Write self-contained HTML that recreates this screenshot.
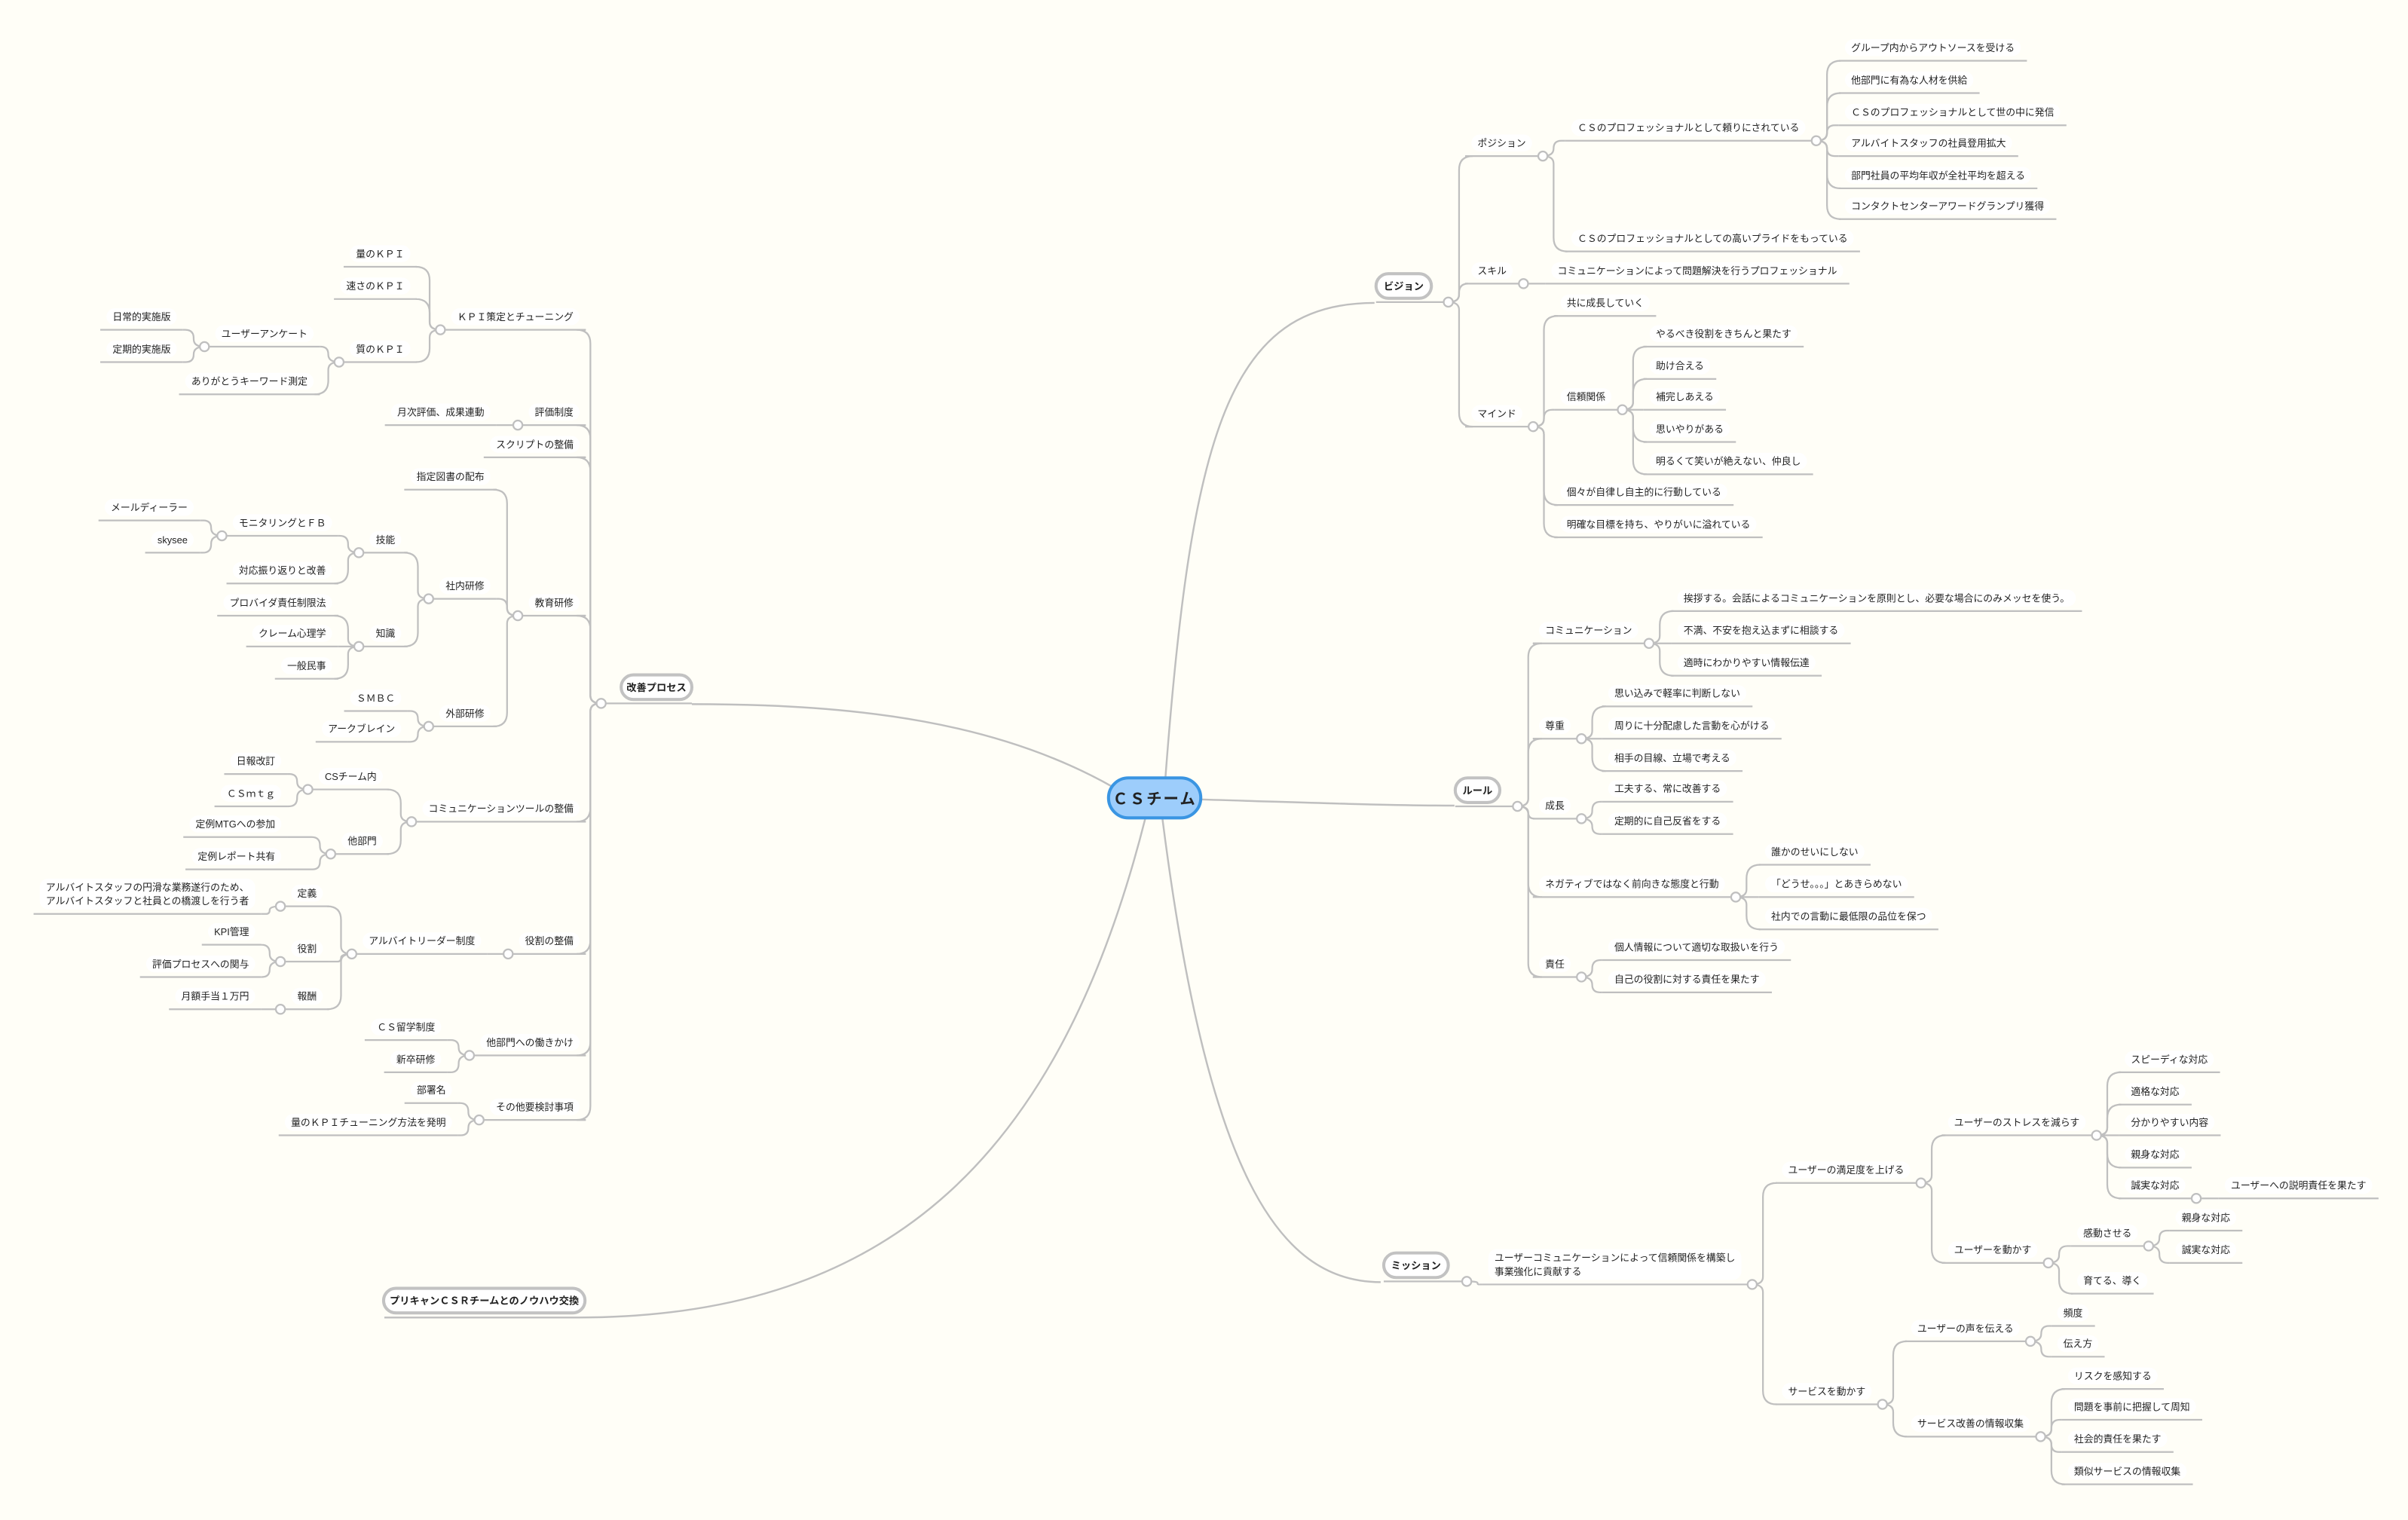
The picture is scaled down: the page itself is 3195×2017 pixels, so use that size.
<!DOCTYPE html>
<html><head><meta charset="utf-8">
<style>
html,body{margin:0;padding:0;background:#fffef7;}
svg{display:block;}
text{font-family:"Liberation Sans","Noto Sans CJK JP",sans-serif;fill:#222;}
</style></head>
<body>
<svg id="s" xmlns="http://www.w3.org/2000/svg" width="3195" height="2017" viewBox="0 0 1566.2 988.7">
<rect x="0" y="0" width="1566.2" height="988.7" fill="#fffef7"/>
<g id="links" fill="none" stroke="#bfbfbf" stroke-width="1.1"></g>
<g id="nodes"></g>
</svg>
<script>
var NS="http://www.w3.org/2000/svg";
var L=document.getElementById('links'),G=document.getElementById('nodes');
var FS=6.3;
function el(n,a,p){var e=document.createElementNS(NS,n);for(var k in a)e.setAttribute(k,a[k]);(p||G).appendChild(e);return e;}
function N(t,x,y,k){return {t:t,x:x,y:y,k:k||[]};}
function tw(t){var e=el('text',{x:0,y:-100,'font-size':FS});e.textContent=t;var w=e.getComputedTextLength();G.removeChild(e);return w;}
function conn(cx,cy,ex,ey,s){
  var dy=ey-cy;
  if(Math.abs(dy)<1.5){el('path',{d:'M'+cx+' '+cy+' L'+ex+' '+ey},L);return;}
  var sg=dy>0?1:-1,mx=cx+s*7,r1=Math.min(5,Math.abs(dy)/2),r2=Math.min(9,Math.abs(dy)/2);
  var d='M'+cx+' '+cy+' Q'+mx+' '+cy+' '+mx+' '+(cy+sg*r1)+' L'+mx+' '+(ey-sg*r2)+' Q'+mx+' '+ey+' '+(mx+s*r2)+' '+ey+' L'+ex+' '+ey;
  el('path',{d:d},L);
}
function draw(n,s,pc){
  var lines=n.t.split('|');var w=0;lines.forEach(function(l){w=Math.max(w,tw(l));});
  var ly=n.y+(lines.length-1)*9+8.5;
  var x0,x1,tx;
  if(s>0){tx=n.x;x0=n.x-8;x1=n.x+w+8;}else{tx=n.x-w;x1=n.x+8;x0=n.x-w-8;}
  var start=s>0?x0:x1;
  if(pc)conn(pc[0],pc[1],start,ly,s);
  var end=s>0?x1:x0;
  el('path',{d:'M'+x0+' '+ly+' L'+x1+' '+ly},L);
  el('rect',{x:tx-4,y:n.y-5.5,width:w+8,height:11+(lines.length-1)*9,rx:5.5,fill:'#ffffff'});
  lines.forEach(function(l,i){var e=el('text',{x:tx,y:n.y+2.3+i*9,'font-size':FS});e.textContent=l;});
  if(n.k.length){
    var cx=end+s*3;
    n.k.forEach(function(c){draw(c,s,[cx,ly]);});
    el('circle',{cx:cx,cy:ly,r:3,fill:'#fff',stroke:'#bfbfbf','stroke-width':1.1});
  }
}
function topic(t,cx,cy,w,s,kids,circ){
  var ly=cy+10.5;
  el('rect',{x:cx-w/2,y:cy-8,width:w,height:16,rx:8,fill:'#fff',stroke:'#c2c2c2','stroke-width':2});
  var e=el('text',{x:cx,y:cy+2.4,'font-size':6.5,'font-weight':'bold','text-anchor':'middle'});e.textContent=t;
  if(circ!=null){
    el('path',{d:'M'+(cx-s*w/2)+' '+ly+' L'+circ+' '+ly},L);
    kids.forEach(function(c){draw(c,s,[circ,ly]);});
    el('circle',{cx:circ,cy:ly,r:3,fill:'#fff',stroke:'#bfbfbf','stroke-width':1.1});
  }
}
var R=[
 'M758 506 C775 280 800 197 894 197',
 'M780 520 C850 522 900 524 946 524',
 'M756 532 C785 760 830 834 898 834',
 'M724 512 C650 470 560 458 450 458',
 'M745 532 C690 750 580 857 376 857 L250 857'
];
R.forEach(function(d){el('path',{d:d,'stroke-width':1.2},L);});

topic('ビジョン',913,186,36,1,[
 N('ポジション',961,93,[
   N('ＣＳのプロフェッショナルとして頼りにされている',1026,83,[
     N('グループ内からアウトソースを受ける',1204,31),
     N('他部門に有為な人材を供給',1204,52),
     N('ＣＳのプロフェッショナルとして世の中に発信',1204,73),
     N('アルバイトスタッフの社員登用拡大',1204,93),
     N('部門社員の平均年収が全社平均を超える',1204,114),
     N('コンタクトセンターアワードグランプリ獲得',1204,134)
   ]),
   N('ＣＳのプロフェッショナルとしての高いプライドをもっている',1026,155)
 ]),
 N('スキル',961,176,[
   N('コミュニケーションによって問題解決を行うプロフェッショナル',1013,176)
 ]),
 N('マインド',961,269,[
   N('共に成長していく',1019,197),
   N('信頼関係',1019,258,[
     N('やるべき役割をきちんと果たす',1077,217),
     N('助け合える',1077,238),
     N('補完しあえる',1077,258),
     N('思いやりがある',1077,279),
     N('明るくて笑いが絶えない、仲良し',1077,300)
   ]),
   N('個々が自律し自主的に行動している',1019,320),
   N('明確な目標を持ち、やりがいに溢れている',1019,341)
 ])
],942);

topic('ルール',961,514,29,1,[
 N('コミュニケーション',1005,410,[
   N('挨拶する。会話によるコミュニケーションを原則とし、必要な場合にのみメッセを使う。',1095,389),
   N('不満、不安を抱え込まずに相談する',1095,410),
   N('適時にわかりやすい情報伝達',1095,431)
 ]),
 N('尊重',1005,472,[
   N('思い込みで軽率に判断しない',1050,451),
   N('周りに十分配慮した言動を心がける',1050,472),
   N('相手の目線、立場で考える',1050,493)
 ]),
 N('成長',1005,524,[
   N('工夫する、常に改善する',1050,513),
   N('定期的に自己反省をする',1050,534)
 ]),
 N('ネガティブではなく前向きな態度と行動',1005,575,[
   N('誰かのせいにしない',1152,554),
   N('「どうせ。。。」とあきらめない',1152,575),
   N('社内での言動に最低限の品位を保つ',1152,596)
 ]),
 N('責任',1005,627,[
   N('個人情報について適切な取扱いを行う',1050,616),
   N('自己の役割に対する責任を果たす',1050,637)
 ])
],987);

topic('ミッション',921,823,42,1,[
 N('ユーザーコミュニケーションによって信頼関係を構築し|事業強化に貢献する',972,818,[
   N('ユーザーの満足度を上げる',1163,761,[
     N('ユーザーのストレスを減らす',1271,730,[
       N('スピーディな対応',1386,689),
       N('適格な対応',1386,710),
       N('分かりやすい内容',1386,730),
       N('親身な対応',1386,751),
       N('誠実な対応',1386,771,[
         N('ユーザーへの説明責任を果たす',1451,771)
       ])
     ]),
     N('ユーザーを動かす',1271,813,[
       N('感動させる',1355,802,[
         N('親身な対応',1419,792),
         N('誠実な対応',1419,813)
       ]),
       N('育てる、導く',1355,833)
     ])
   ]),
   N('サービスを動かす',1163,905,[
     N('ユーザーの声を伝える',1247,864,[
       N('頻度',1342,854),
       N('伝え方',1342,874)
     ]),
     N('サービス改善の情報収集',1247,926,[
       N('リスクを感知する',1349,895),
       N('問題を事前に把握して周知',1349,915),
       N('社会的責任を果たす',1349,936),
       N('類似サービスの情報収集',1349,957)
     ])
   ])
 ])
],954);

topic('改善プロセス',427,447,46,-1,[
 N('ＫＰＩ策定とチューニング',373,206,[
   N('量のＫＰＩ',263,165),
   N('速さのＫＰＩ',263,186),
   N('質のＫＰＩ',263,227,[
     N('ユーザーアンケート',200,217,[
       N('日常的実施版',111,206),
       N('定期的実施版',111,227)
     ]),
     N('ありがとうキーワード測定',200,248)
   ])
 ]),
 N('評価制度',373,268,[
   N('月次評価、成果連動',315,268)
 ]),
 N('スクリプトの整備',373,289),
 N('教育研修',373,392,[
   N('指定図書の配布',315,310),
   N('社内研修',315,381,[
     N('技能',257,351,[
       N('モニタリングとＦＢ',212,340,[
         N('メールディーラー',122,330),
         N('skysee',122,351)
       ]),
       N('対応振り返りと改善',212,371)
     ]),
     N('知識',257,412,[
       N('プロバイダ責任制限法',212,392),
       N('クレーム心理学',212,412),
       N('一般民事',212,433)
     ])
   ]),
   N('外部研修',315,464,[
     N('ＳＭＢＣ',257,454),
     N('アークブレイン',257,474)
   ])
 ]),
 N('コミュニケーションツールの整備',373,526,[
   N('CSチーム内',245,505,[
     N('日報改訂',179,495),
     N('ＣＳｍｔｇ',179,516)
   ]),
   N('他部門',245,547,[
     N('定例MTGへの参加',179,536),
     N('定例レポート共有',179,557)
   ])
 ]),
 N('役割の整備',373,612,[
   N('アルバイトリーダー制度',309,612,[
     N('定義',206,581,[
       N('アルバイトスタッフの円滑な業務遂行のため、|アルバイトスタッフと社員との橋渡しを行う者',162,577)
     ]),
     N('役割',206,617,[
       N('KPI管理',162,606),
       N('評価プロセスへの関与',162,627)
     ]),
     N('報酬',206,648,[
       N('月額手当１万円',162,648)
     ])
   ])
 ]),
 N('他部門への働きかけ',373,678,[
   N('ＣＳ留学制度',283,668),
   N('新卒研修',283,689)
 ]),
 N('その他要検討事項',373,720,[
   N('部署名',290,709),
   N('量のＫＰＩチューニング方法を発明',290,730)
 ])
],391);

topic('プリキャンＣＳＲチームとのノウハウ交換',315,846,131,-1,[],null);

el('rect',{x:721,y:506,width:60,height:26,rx:13,fill:'#9dcdfb',stroke:'#3a95e2','stroke-width':2});
var c=el('text',{x:751,y:523,'font-size':10,'font-weight':'bold','text-anchor':'middle','letter-spacing':'1'});c.textContent='ＣＳチーム';
</script>
</body></html>
